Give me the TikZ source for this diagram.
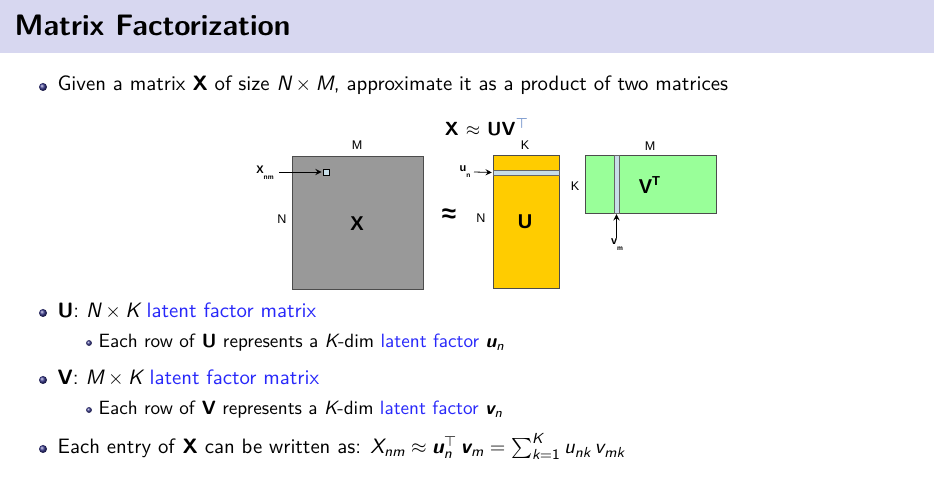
\documentclass[tikz,border=0pt]{standalone}
\usepackage{fontspec}
\newfontfamily\figfont{Liberation Sans}
\usepackage{amsmath}
\usepackage{tikz}
\usetikzlibrary{calc,arrows,positioning}

\definecolor{barcol}{RGB}{215,215,240}
\definecolor{ballcol}{RGB}{55,55,140}
\definecolor{latcol}{RGB}{40,40,250}
\definecolor{topcol}{RGB}{80,120,190}
\definecolor{graycol}{RGB}{153,153,153}
\definecolor{yelcol}{RGB}{255,204,0}
\definecolor{grncol}{RGB}{153,255,153}
\definecolor{stripcol}{RGB}{200,222,232}

\newcommand{\si}[1]{\text{\itshape #1}}
\newcommand{\sbi}[1]{\text{\bfseries\itshape #1}}
\newcommand{\lat}[1]{\textcolor{latcol}{#1}}

\begin{document}
\begin{tikzpicture}[x=0.5pt,y=-0.5pt,>=latex,semithick]

   \tikzstyle{body}=[anchor=base west,inner sep=0pt,font=\sffamily\fontsize{10.4}{12}\selectfont]
   \tikzstyle{subbody}=[anchor=base west,inner sep=0pt,font=\sffamily\fontsize{9.6}{11}\selectfont]
   \tikzstyle{ball}=[circle,inner sep=0pt,minimum size=4pt,ball color=ballcol]
   \tikzstyle{smallball}=[circle,inner sep=0pt,minimum size=2.9pt,ball color=ballcol]
   \tikzstyle{mat}=[draw=black!70,thin,inner sep=0pt]
   \tikzstyle{strip}=[draw=black!60,very thin,fill=stripcol,inner sep=0pt]
   \tikzstyle{dim}=[inner sep=0pt,font=\figfont\fontsize{6.3}{7}\selectfont]
   \tikzstyle{big}=[inner sep=0pt,font=\figfont\bfseries\fontsize{10}{12}\selectfont]
   \tikzstyle{tag}=[inner sep=0pt,font=\figfont\bfseries\fontsize{5.5}{6}\selectfont]
   \tikzstyle{pointer}=[->,thin,>=stealth,shorten >=0.5pt]

   \useasboundingbox (0,0) rectangle (934,480);
   \fill[white] (0,0) rectangle (934,480);

   % title bar
   \fill[barcol] (0,0) rectangle (934,53);
   \node[anchor=base west,inner sep=0pt,font=\sffamily\bfseries\fontsize{14.8}{17}\selectfont]
     (title) at (14,36) {Matrix Factorization};

   % first bullet
   \node[ball] (b1) at (43,87) {};
   \node[body] (t1) at (57,91) {Given a matrix \textbf{X} of size $\si{N}\times\si{M}$, approximate it as a product of two matrices};

   \node[anchor=base,inner sep=0pt,font=\sffamily\bfseries\fontsize{9.5}{11}\selectfont]
     (eq) at (487,136) {X $\approx$ UV$^{\textcolor{topcol}{\top}}$};

   % matrices
   \node[mat,fill=graycol,minimum width=65.5pt,minimum height=66.5pt] (X) at (357.5,222.5) {};
   \node[mat,fill=yelcol,minimum width=33pt,minimum height=66.5pt] (U) at (526,221.5) {};
   \node[mat,fill=grncol,minimum width=65.5pt,minimum height=29pt] (V) at (650.5,184) {};

   \node[strip,minimum width=33pt,minimum height=2.5pt] (un) at (526,172.5) {};
   \node[strip,minimum width=2.5pt,minimum height=29pt] (vm) at (616.5,184) {};
   \node[draw=black,thin,fill=stripcol,inner sep=0pt,minimum size=3pt] (xnm) at (326,172) {};

   \node[dim] (XM) at (357,145) {M};
   \node[dim] (XN) at (282,219) {N};
   \node[big] (Xl) at (357,224) {X};
   \node[big,font=\figfont\bfseries\fontsize{13}{14}\selectfont] (approx) at (449,216) {≈};
   \node[dim] (UN) at (481,218) {N};
   \node[dim] (UK) at (525,145) {K};
   \node[big] (Ul) at (525,222) {U};
   \node[dim] (VM) at (650,146) {M};
   \node[dim] (VK) at (575,186) {K};
   \node[big] (Vl) at (650,185) {V\textsuperscript{\fontsize{6.5}{7}\selectfont T}};

   % pointers to one entry / row / column
   \node[tag] (xtag) at (265,173) {X\raisebox{-3pt}{\fontsize{3.3}{4}\selectfont nm}};
   \node[tag] (utag) at (465,172) {u\raisebox{-3pt}{\fontsize{3.3}{4}\selectfont n}};
   \node[tag] (vtag) at (617,245) {v\raisebox{-3pt}{\fontsize{3.3}{4}\selectfont m}};
   \coordinate (xs) at (279,172);
   \coordinate (us) at (474,172);
   \coordinate (vs) at (616.5,238);
   \draw[pointer] (xs) -- (xnm.west);
   \draw[pointer] (us) -- (un.west);
   \draw[pointer] (vs) -- (vm.south);

   % remaining bullets
   \node[ball] (b2) at (43,313) {};
   \node[body] (t2) at (57,318) {\textbf{U}: $\si{N}\times\si{K}$ \lat{latent factor matrix}};
   \node[smallball] (b3) at (89,343) {};
   \node[subbody] (t3) at (98,348) {Each row of \textbf{U} represents a \si{K}-dim \lat{latent factor} $\sbi{u}_{\si{n}}$};
   \node[ball] (b4) at (43,380) {};
   \node[body] (t4) at (57,385) {\textbf{V}: $\si{M}\times\si{K}$ \lat{latent factor matrix}};
   \node[smallball] (b5) at (89,410) {};
   \node[subbody] (t5) at (98,415) {Each row of \textbf{V} represents a \si{K}-dim \lat{latent factor} $\sbi{v}_{\si{n}}$};
   \node[ball] (b6) at (43,449) {};
   \node[body] (t6) at (57,454) {Each entry of \textbf{X} can be written as: $\si{X}_{\si{nm}}\approx\sbi{u}_{\si{n}}^{\top}\,\sbi{v}_{\si{m}}=\sum_{\si{k}=\text{1}}^{\si{K}}\si{u}_{\si{nk}}\,\si{v}_{\si{mk}}$};

\end{tikzpicture}
\end{document}
